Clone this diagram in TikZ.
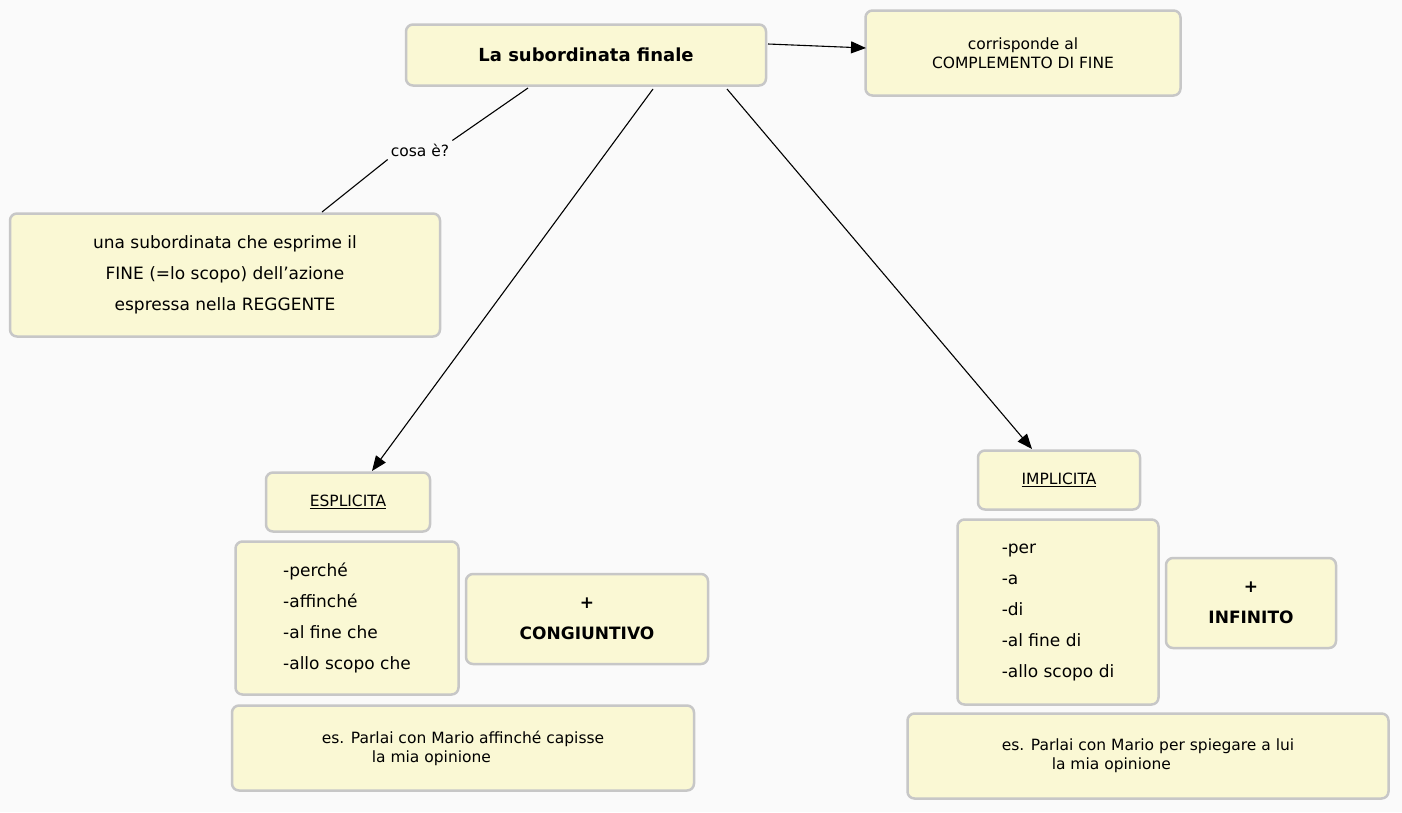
\documentclass[tikz,border=0pt]{standalone}
\usepackage{fontspec}
\setmainfont{DejaVu Sans}
\usetikzlibrary{arrows.meta}
\begin{document}
\begin{tikzpicture}[x=1pt,y=-1pt,
  box/.style={draw=black!22,line width=2.5pt,fill=boxfill,rounded corners=7pt,inner sep=0pt,font=\fontsize{15.5}{19}\selectfont},
  conn/.style={line width=1.1pt},
  arr/.style={conn,-{Triangle[length=15pt,width=12pt]}}]
\definecolor{boxfill}{HTML}{FAF8D4}
\fill[white!98!black] (0,0) rectangle (1402,812);
\useasboundingbox (0,0) rectangle (1402,812);
\node[box,minimum width=360,minimum height=61,font=\fontsize{18}{22}\selectfont\bfseries] (t) at (586,55) {La subordinata finale};
\node[box,minimum width=315,minimum height=85,align=center] (c) at (1023,53) {corrisponde al\\COMPLEMENTO DI FINE};
\node[box,minimum width=430,minimum height=123,align=center,font=\fontsize{17}{31}\selectfont] (u) at (225,275) {una subordinata che esprime il\\FINE (=lo scopo) dell'azione\\espressa nella REGGENTE};
\node[box,minimum width=164,minimum height=59] (e) at (348,502) {\underline{ESPLICITA}};
\node[box,minimum width=223,minimum height=153,align=left,font=\fontsize{17}{31}\selectfont] (el) at (347,618) {\rlap{-perché}\phantom{-allo scopo che}\\-affinché\\-al fine che\\-allo scopo che};
\node[box,minimum width=242,minimum height=90,align=center,font=\fontsize{17}{31}\selectfont\bfseries] (g) at (587,619) {+\\CONGIUNTIVO};
\node[box,minimum width=462,minimum height=85,align=left] (x1) at (463,748) {es. Parlai con Mario affinché capisse\\\hspace{50pt}la mia opinione};
\node[box,minimum width=162,minimum height=59] (i) at (1059,480) {\underline{IMPLICITA}};
\node[box,minimum width=201,minimum height=185,align=left,font=\fontsize{17}{31}\selectfont] (il) at (1058,612) {-per\\-a\\-di\\-al fine di\\-allo scopo di};
\node[box,minimum width=170,minimum height=90,align=center,font=\fontsize{17}{31}\selectfont\bfseries] (f) at (1251,603) {+\\INFINITO};
\node[box,minimum width=481,minimum height=85,align=left] (x2) at (1148,756) {es. Parlai con Mario per spiegare a lui\\\hspace{50pt}la mia opinione};
\coordinate (t1) at (768,44); \coordinate (c1) at (866,48);
\draw[arr] (t1) -- (c1);
\coordinate (t2) at (528,88); \coordinate (u1) at (322,212);
\node[font=\fontsize{15.5}{19}\selectfont,fill=white!98!black,inner sep=3pt] (q) at (420,150) {cosa è?};
\draw[conn] (t2) -- (q.north east) ; \draw[conn] (q.south west) -- (u1);
\draw[arr] (653,89) coordinate (t3) -- (372,471) coordinate (e1);
\draw[arr] (727,89) coordinate (t4) -- (1032,449) coordinate (i1);
\end{tikzpicture}
\end{document}
